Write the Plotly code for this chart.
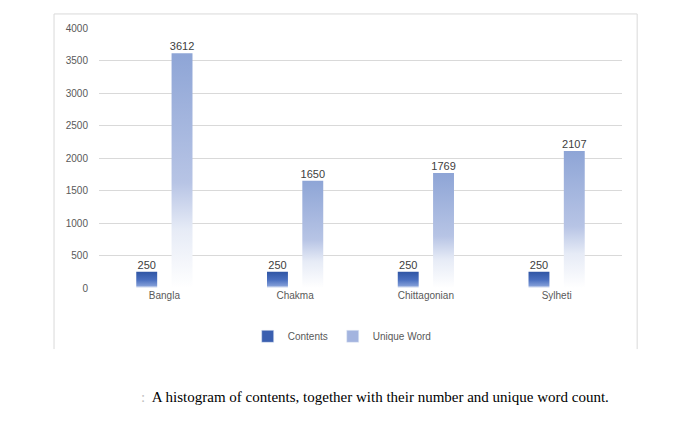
"""Grouped bar chart of contents and unique word counts per dialect."""

import plotly.graph_objects as go

categories = ["Bangla", "Chakma", "Chittagonian", "Sylheti"]
contents = [250, 250, 250, 250]
unique_words = [3612, 1650, 1769, 2107]
y_ticks = list(range(0, 4001, 500))

BAR_W = 0.16
OFFSET = 0.135
TEXT_COLOR = "#595959"

contents_scale = [[0, "#ffffff"], [0.15, "#7f9bd6"], [0.5, "#4a6fbf"], [1, "#2f55a4"]]
unique_scale = [[0, "#ffffff"], [0.25, "#e6ebf6"], [0.45, "#b7c4e5"], [1, "#8ea5d6"]]

fig = go.Figure()


def add_bar(i, value, shift, scale):
    x0 = i + shift - BAR_W / 2
    x1 = i + shift + BAR_W / 2
    fig.add_trace(go.Scatter(
        x=[x0, x1, x1, x0, x0], y=[0, 0, value, value, 0],
        mode="lines", line=dict(width=0), fill="toself",
        fillgradient=dict(type="vertical", colorscale=scale),
        hoverinfo="skip", showlegend=False,
    ))


for i, (c, u) in enumerate(zip(contents, unique_words)):
    add_bar(i, c, -OFFSET, contents_scale)
    add_bar(i, u, OFFSET, unique_scale)

# value labels
fig.add_trace(go.Scatter(
    x=[i - OFFSET for i in range(len(categories))] + [i + OFFSET for i in range(len(categories))],
    y=contents + unique_words,
    text=[str(v) for v in contents + unique_words],
    mode="text", textposition="top center",
    textfont=dict(size=11, color="#404040"),
    hoverinfo="skip", showlegend=False,
))

# legend entries
fig.add_trace(go.Bar(x=[None], y=[None], name="Contents", marker_color="#3a5fb0"))
fig.add_trace(go.Bar(x=[None], y=[None], name="Unique Word", marker_color="#a3b4df"))

border = dict(color="#d9d9d9", width=1)

fig.update_layout(
    width=689, height=419,
    margin=dict(l=91, r=75, t=20, b=139),
    plot_bgcolor="white", paper_bgcolor="white",
    font=dict(family="Liberation Sans, Arial, sans-serif", size=10, color=TEXT_COLOR),
    xaxis=dict(
        range=[-0.5, len(categories) - 0.5],
        tickvals=list(range(len(categories))), ticktext=categories,
        showgrid=False, zeroline=False, showline=False, ticks="",
    ),
    yaxis=dict(
        range=[0, 4000], tickvals=y_ticks,
        gridcolor="#d9d9d9", gridwidth=1, zeroline=False,
        showline=False, ticks="", ticklabelstandoff=10,
    ),
    legend=dict(orientation="h", x=0.465, xanchor="center", y=-0.13, yanchor="top",
                font=dict(size=10, color=TEXT_COLOR), itemwidth=30, tracegroupgap=0),
    shapes=[dict(type="line", xref="paper", yref="paper", x0=-0.086, x1=-0.086,
                 y0=-0.235, y1=1.054, line=border),
            dict(type="line", xref="paper", yref="paper", x0=1.029, x1=1.029,
                 y0=-0.235, y1=1.054, line=border),
            dict(type="line", xref="paper", yref="paper", x0=-0.086, x1=1.029,
                 y0=1.054, y1=1.054, line=border)],
    annotations=[dict(
        text="<span style='color:#c0c0c0'>:</span>  A histogram of contents, together with "
             "their number and unique word count.",
        xref="paper", yref="paper", x=0.528, y=-0.42, xanchor="center", yanchor="middle",
        showarrow=False, font=dict(family="Liberation Serif, Times New Roman, serif",
                                   size=15, color="black"),
    )],
)

fig.write_html("out.html")
